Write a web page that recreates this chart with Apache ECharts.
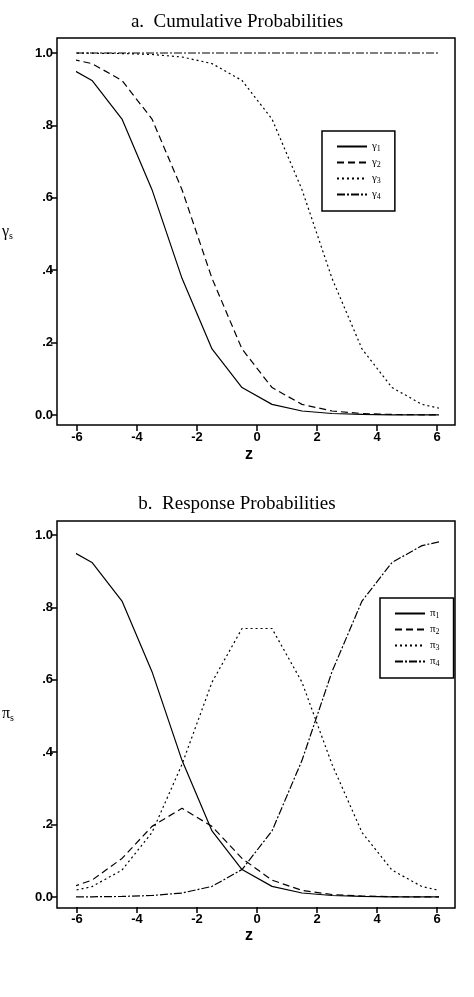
<!DOCTYPE html>
<html><head><meta charset="utf-8">
<script src="https://cdn.jsdelivr.net/npm/echarts@6/dist/echarts.min.js"></script>
<style>body{margin:0}#c{width:474px;height:997px}</style></head>
<body><div id="c"></div>
<script>
var z = [-6.5,-5.5,-4.5,-3.5,-2.5,-1.5,-0.5,0.5,1.5,2.5,3.5,4.5,5.5,6.5];
var gamma1 = [0.9707,0.9241,0.8176,0.6225,0.3775,0.1824,0.0759,0.0293,0.0110,0.0041,0.0015,0.0006,0.0002,0.0001];
var gamma2 = [0.9890,0.9707,0.9241,0.8176,0.6225,0.3775,0.1824,0.0759,0.0293,0.0110,0.0041,0.0015,0.0006,0.0002];
var gamma3 = [0.9998,0.9994,0.9985,0.9959,0.9890,0.9707,0.9241,0.8176,0.6225,0.3775,0.1824,0.0759,0.0293,0.0110];
var gamma4 = [1,1,1,1,1,1,1,1,1,1,1,1,1,1];
var pi1 = [0.9707,0.9241,0.8176,0.6225,0.3775,0.1824,0.0759,0.0293,0.0110,0.0041,0.0015,0.0006,0.0002,0.0001];
var pi2 = [0.0183,0.0466,0.1065,0.1951,0.2450,0.1951,0.1065,0.0466,0.0183,0.0069,0.0026,0.0009,0.0004,0.0001];
var pi3 = [0.0108,0.0287,0.0744,0.1783,0.3665,0.5932,0.7417,0.7417,0.5932,0.3665,0.1783,0.0744,0.0287,0.0108];
var pi4 = [0.0002,0.0006,0.0015,0.0041,0.0110,0.0293,0.0759,0.1824,0.3775,0.6225,0.8176,0.9241,0.9707,0.9890];
var yLabels = {'0':'0.0','0.2':'.2','0.4':'.4','0.6':'.6','0.8':'.8','1':'1.0'};

var myChart = echarts.init(document.getElementById('c'));
var dashes = ['solid',[7,4],[2,3],[8,2,2,2]];
function pairs(ys){ return z.map(function(x,i){ return [x, ys[i]]; }); }
function mk(name, ys, k, gi){
    return {name:name, type:'line', xAxisIndex:gi, yAxisIndex:gi, data:pairs(ys), symbol:'none',
        clip:false, color:'#000', lineStyle:{color:'#000', width:1.2, type:dashes[k]}};
}
function xa(gi){
    return {gridIndex:gi, type:'value', min:-6, max:6, interval:2, offset:10,
        axisLine:{show:false, onZero:false}, splitLine:{show:false},
        axisTick:{length:6, lineStyle:{color:'#000', width:1.5}},
        axisLabel:{color:'#000', fontWeight:'bold', fontFamily:'Liberation Sans', fontSize:13, margin:6}};
}
function ya(gi){
    return {gridIndex:gi, type:'value', min:0, max:1, interval:0.2, offset:20,
        axisLine:{show:false, onZero:false}, splitLine:{show:false},
        axisTick:{length:6, lineStyle:{color:'#000', width:1.5}},
        axisLabel:{color:'#000', fontWeight:'bold', fontFamily:'Liberation Sans', fontSize:13, margin:4,
            formatter:function(v){ return yLabels[String(+v.toFixed(1))]; }}};
}
function leg(names, l, t){
    return {data:names, orient:'vertical', left:l, top:t, borderColor:'#000', borderWidth:1.5,
        padding:[10,14,10,14], itemGap:4, itemWidth:30, itemHeight:10,
        itemStyle:{opacity:0},
        formatter:function(n){ return n.charAt(0) + '{s|' + n.slice(1) + '}'; },
        textStyle:{fontFamily:'Liberation Serif', fontSize:11, color:'#000',
            rich:{s:{fontSize:8, fontFamily:'Liberation Serif', padding:[5,0,0,0]}}}};
}
var option = {
    animation:false,
    title:[
        {text:'a.  Cumulative Probabilities', left:'center', top:8, textStyle:{fontFamily:'Liberation Serif', fontWeight:'normal', fontSize:19, color:'#000'}},
        {text:'b.  Response Probabilities', left:'center', top:490, textStyle:{fontFamily:'Liberation Serif', fontWeight:'normal', fontSize:19, color:'#000'}}
    ],
    legend:[leg(['γ1','γ2','γ3','γ4'],322,131), leg(['π1','π2','π3','π4'],380,598)],
    grid:[{left:77, right:37, top:53, bottom:582}, {left:77, right:37, top:535, bottom:100}],
    xAxis:[xa(0), xa(1)],
    yAxis:[ya(0), ya(1)],
    series:[
        mk('γ1',gamma1,0,0), mk('γ2',gamma2,1,0), mk('γ3',gamma3,2,0), mk('γ4',gamma4,3,0),
        mk('π1',pi1,0,1), mk('π2',pi2,1,1), mk('π3',pi3,2,1), mk('π4',pi4,3,1)
    ],
    graphic:[
        {type:'rect', shape:{x:57, y:38, width:398, height:387}, style:{fill:'none', stroke:'#000', lineWidth:1.5}},
        {type:'rect', shape:{x:57, y:521, width:398, height:387}, style:{fill:'none', stroke:'#000', lineWidth:1.5}},
        {type:'text', left:245, top:447, style:{text:'z', font:'bold 16px Liberation Sans', fill:'#000'}},
        {type:'text', left:245, top:928, style:{text:'z', font:'bold 16px Liberation Sans', fill:'#000'}},
        {type:'text', left:2, top:224, style:{text:'γ{s|s}', font:'16px Liberation Serif', fill:'#000', rich:{s:{fontSize:10, verticalAlign:'bottom', padding:[8,0,0,0], fontFamily:'Liberation Serif'}}}},
        {type:'text', left:2, top:706, style:{text:'π{s|s}', font:'16px Liberation Serif', fill:'#000', rich:{s:{fontSize:10, verticalAlign:'bottom', padding:[8,0,0,0], fontFamily:'Liberation Serif'}}}}
    ]
};
myChart.setOption(option);
</script></body></html>
